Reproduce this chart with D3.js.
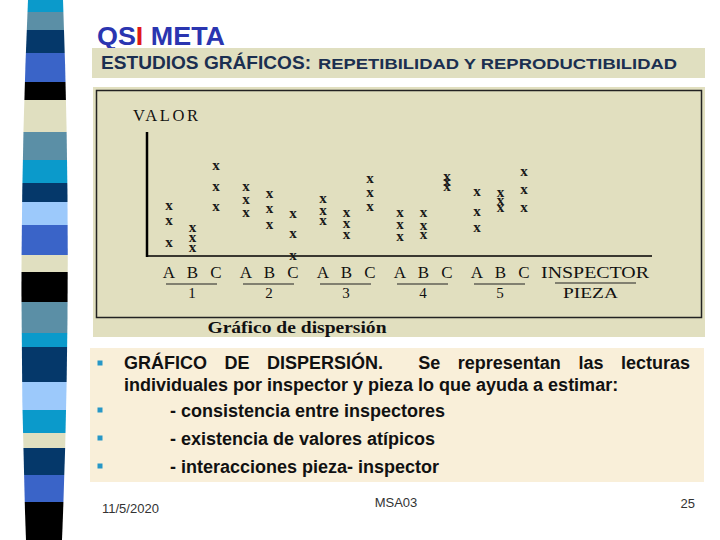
<!DOCTYPE html>
<html>
<head>
<meta charset="utf-8">
<script src="https://cdn.jsdelivr.net/npm/d3@7"></script>
<style>
  body { margin: 0; background: #fff; }
  svg { display: block; }
</style>
</head>
<body>
<div id="chart"></div>
<script>
// datos del gráfico de dispersión (lecturas por pieza e inspector)
const piezas = ["1", "2", "3", "4", "5"];
const inspectores = ["A", "B", "C"];
const lecturasA = [[4.9, 3.4, 1.2], [6.8, 5.5, 4.2], [5.6, 4.4, 3.4], [4.2, 3.0, 1.8], [6.3, 4.3, 2.7]];
const lecturasB = [[2.7, 1.7, 0.7], [6.1, 4.6, 3.0], [4.2, 3.1, 2.0], [4.2, 2.9, 2.0], [6.2, 5.4, 4.7]];
const lecturasC = [[8.9, 6.8, 4.8], [4.1, 2.1, -0.1], [7.6, 6.2, 4.8], [7.8, 7.3, 6.8], [8.3, 6.5, 4.7]];

const parrafo = ["GRÁFICO DE DISPERSIÓN.  Se representan las lecturas",
    "individuales por inspector y pieza lo que ayuda a estimar:"];
const items = [
    "- consistencia entre inspectores",
    "- existencia de valores atípicos",
    "- interacciones pieza- inspector",
];

// franjas decorativas de la izquierda
const stripeStops = [0, 12, 30, 53, 82, 100, 132, 160, 183, 202, 225, 255, 272, 302, 333, 347, 382, 410, 433, 448, 475, 502, 540];
const stripeColors = ["#0b9acb", "#5b8fa6", "#05386a", "#3a64c8", "#000000", "#e0dfc0", "#5b8fa6", "#0b9acb",
    "#05386a", "#9cc9fb", "#3a64c8", "#e0dfc0", "#000000", "#5b8fa6", "#0b9acb", "#05386a", "#9cc9fb",
    "#0b9acb", "#e0dfc0", "#05386a", "#3a64c8", "#000000"];

let settings = {
    width: 720,
    height: 540,
    serif: "'Liberation Serif', 'DejaVu Serif', serif",
    narrow: "'Liberation Sans Narrow', 'Arial Narrow', 'Liberation Sans', sans-serif",
    sans: "'Liberation Sans', Arial, sans-serif",
};

function get_svg() {
    return d3.select("#chart").append("svg")
        .attr("width", settings.width)
        .attr("height", settings.height);
}

function draw_stripes(svg) {
    let clip = svg.append("clipPath").attr("id", "stripClip");
    clip.append("path")
        .attr("d", "M 28 0 L 63 0 Q 73 270 62 540 L 26 540 Q 16 270 28 0 Z");

    let g = svg.append("g").attr("clip-path", "url(#stripClip)");
    g.selectAll("rect")
        .data(stripeColors)
        .enter().append("rect")
        .attr("x", 0)
        .attr("width", 100)
        .attr("y", (d, i) => stripeStops[i])
        .attr("height", (d, i) => stripeStops[i + 1] - stripeStops[i])
        .attr("fill", d => d);
}

function draw_header(svg) {
    let logo = svg.append("text")
        .attr("x", 97).attr("y", 45)
        .attr("font-family", settings.sans)
        .attr("font-weight", "bold")
        .attr("font-size", 25)
        .attr("textLength", 128)
        .attr("lengthAdjust", "spacingAndGlyphs");
    logo.append("tspan").attr("fill", "#2a35b0").text("QS");
    logo.append("tspan").attr("fill", "#e01818").text("I");
    logo.append("tspan").attr("fill", "#2a35b0").text(" META");

    svg.append("rect")
        .attr("x", 92).attr("y", 48)
        .attr("width", 613).attr("height", 30)
        .attr("fill", "#e0dfc0");

    svg.append("text")
        .attr("x", 101).attr("y", 69)
        .attr("font-family", settings.sans)
        .attr("font-weight", "bold")
        .attr("font-size", 18)
        .attr("fill", "#1b2f50")
        .attr("textLength", 210)
        .attr("lengthAdjust", "spacingAndGlyphs")
        .text("ESTUDIOS GRÁFICOS:");

    svg.append("text")
        .attr("x", 318).attr("y", 69)
        .attr("font-family", settings.sans)
        .attr("font-weight", "bold")
        .attr("font-size", 14.5)
        .attr("fill", "#1b2f50")
        .attr("textLength", 359)
        .attr("lengthAdjust", "spacingAndGlyphs")
        .text("REPETIBILIDAD Y REPRODUCTIBILIDAD");
}

function draw_chart(svg) {
    // panel
    svg.append("rect")
        .attr("x", 93).attr("y", 87)
        .attr("width", 612).attr("height", 250)
        .attr("fill", "#e1dfbf");
    svg.append("rect")
        .attr("x", 96.5).attr("y", 90.5)
        .attr("width", 605).attr("height", 227)
        .attr("fill", "none")
        .attr("stroke", "#222")
        .attr("stroke-width", 1.5);

    let x = d3.scalePoint().domain(piezas).range([192, 500]);
    let xi = d3.scalePoint().domain(inspectores).range([-23, 24]);
    let y = d3.scaleLinear().domain([0, 12.4]).range([256, 132]);
    let xEnd = 652;

    // ejes
    svg.append("line")
        .attr("x1", 147).attr("x2", 147)
        .attr("y1", y(12.4)).attr("y2", y(0) + 1)
        .attr("stroke", "#000").attr("stroke-width", 2.5);
    svg.append("line")
        .attr("x1", 146).attr("x2", xEnd)
        .attr("y1", y(0)).attr("y2", y(0))
        .attr("stroke", "#000").attr("stroke-width", 1.5);

    svg.append("text")
        .attr("x", 133).attr("y", 121)
        .attr("font-family", settings.serif)
        .attr("font-size", 16.5)
        .attr("textLength", 65)
        .attr("lengthAdjust", "spacing")
        .attr("fill", "#111")
        .text("VALOR");

    // puntos
    let series = { A: lecturasA, B: lecturasB, C: lecturasC };
    let points = [];
    for (let insp of inspectores) {
        series[insp].forEach((vals, i) => {
            for (let v of vals) points.push({ pieza: piezas[i], insp, v });
        });
    }
    svg.append("g")
        .selectAll("text.mark")
        .data(points)
        .enter().append("text")
        .attr("class", "mark")
        .attr("x", d => x(d.pieza) + xi(d.insp))
        .attr("y", d => y(d.v))
        .attr("dy", "0.22em")
        .attr("text-anchor", "middle")
        .attr("font-family", settings.serif)
        .attr("font-weight", "bold")
        .attr("font-size", 15)
        .attr("fill", "#1a1a1a")
        .text("x");

    // etiquetas de inspector y pieza
    let groups = svg.append("g")
        .selectAll("g.pieza")
        .data(piezas)
        .enter().append("g")
        .attr("class", "pieza")
        .attr("transform", d => "translate(" + x(d) + ",0)");

    groups.selectAll("text.insp")
        .data(inspectores)
        .enter().append("text")
        .attr("class", "insp")
        .attr("x", d => xi(d))
        .attr("y", 278)
        .attr("text-anchor", "middle")
        .attr("font-family", settings.serif)
        .attr("font-size", 17)
        .attr("fill", "#111")
        .text(d => d);

    groups.append("line")
        .attr("x1", -26).attr("x2", 25)
        .attr("y1", 284).attr("y2", 284)
        .attr("stroke", "#222").attr("stroke-width", 1.2);

    groups.append("text")
        .attr("y", 298)
        .attr("text-anchor", "middle")
        .attr("font-family", settings.serif)
        .attr("font-size", 15)
        .attr("fill", "#111")
        .text(d => d);

    svg.append("text")
        .attr("x", 541).attr("y", 278)
        .attr("font-family", settings.serif)
        .attr("font-size", 16)
        .attr("textLength", 108)
        .attr("lengthAdjust", "spacingAndGlyphs")
        .attr("fill", "#111")
        .text("INSPECTOR");
    svg.append("line")
        .attr("x1", 555).attr("x2", 636)
        .attr("y1", 283).attr("y2", 283)
        .attr("stroke", "#222").attr("stroke-width", 1.2);
    svg.append("text")
        .attr("x", 563).attr("y", 298)
        .attr("font-family", settings.serif)
        .attr("font-size", 14)
        .attr("textLength", 55)
        .attr("lengthAdjust", "spacingAndGlyphs")
        .attr("fill", "#111")
        .text("PIEZA");

    svg.append("text")
        .attr("x", 297).attr("y", 333)
        .attr("text-anchor", "middle")
        .attr("font-family", settings.serif)
        .attr("font-weight", "bold")
        .attr("font-size", 17.5)
        .attr("textLength", 179)
        .attr("lengthAdjust", "spacingAndGlyphs")
        .attr("fill", "#111")
        .text("Gráfico de dispersión");
}

function draw_text(svg) {
    svg.append("rect")
        .attr("x", 90).attr("y", 348)
        .attr("width", 614).attr("height", 134)
        .attr("fill", "#f9efd9");

    let bulletY = [363, 410, 438, 466];
    svg.selectAll("rect.bullet")
        .data(bulletY)
        .enter().append("rect")
        .attr("class", "bullet")
        .attr("x", 97.5).attr("y", d => d - 2.5)
        .attr("width", 5).attr("height", 5)
        .attr("fill", "#2797c7");

    let txt = svg.append("g")
        .attr("font-family", settings.narrow)
        .attr("font-weight", "bold")
        .attr("font-size", 18)
        .attr("fill", "#111");

    // primera línea justificada: reparte el espacio sobrante entre palabras
    let first = txt.append("text")
        .attr("x", 124).attr("y", 369)
        .style("white-space", "pre")
        .text(parrafo[0]);
    let natural = first.node().getComputedTextLength();
    let gaps = (parrafo[0].match(/ /g) || []).length;
    first.attr("word-spacing", ((690 - 124) - natural) / gaps);

    txt.append("text")
        .attr("x", 124).attr("y", 391)
        .text(parrafo[1]);

    txt.selectAll("text.item")
        .data(items)
        .enter().append("text")
        .attr("class", "item")
        .attr("x", 170)
        .attr("y", (d, i) => 417 + i * 28)
        .text(d => d);

    let foot = svg.append("g")
        .attr("font-family", settings.narrow)
        .attr("font-size", 13)
        .attr("fill", "#333");
    foot.append("text").attr("x", 102).attr("y", 513).text("11/5/2020");
    foot.append("text").attr("x", 396).attr("y", 507).attr("text-anchor", "middle").text("MSA03");
    foot.append("text").attr("x", 695).attr("y", 508).attr("text-anchor", "end").text("25");
}

function main() {
    let svg = get_svg();
    draw_stripes(svg);
    draw_header(svg);
    draw_chart(svg);
    draw_text(svg);
}

main();
</script>
</body>
</html>
